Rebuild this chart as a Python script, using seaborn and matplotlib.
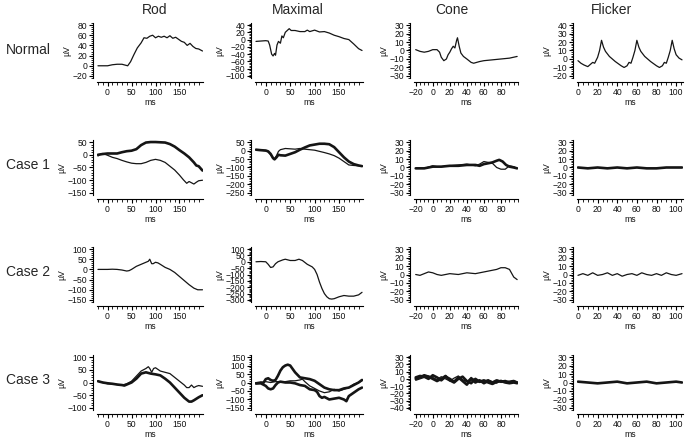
import numpy as np
import matplotlib
matplotlib.use('Agg')
import matplotlib.pyplot as plt
import seaborn as sns
from matplotlib.ticker import MultipleLocator

sns.set_style('ticks')
plt.rcParams['font.family'] = ['Liberation Sans', 'DejaVu Sans']

columns = ['Rod', 'Maximal', 'Cone', 'Flicker']
rows = ['Normal', 'Case 1', 'Case 2', 'Case 3']

# --- Normal ---
normal_rod_t = [-20, -10, 0, 10, 20, 30, 38, 42, 48, 55, 62, 70, 76, 82, 88, 94, 100, 106, 112, 118, 124, 130, 136, 142, 148, 154, 160, 166, 172, 178, 184, 190, 198]
normal_rod_v = [0, 0, 0, 2, 3, 3, 1, 0, 8, 22, 35, 45, 55, 54, 58, 60, 55, 58, 56, 58, 55, 59, 54, 56, 52, 48, 46, 40, 44, 38, 34, 33, 29]

normal_max_t = [-20, -10, 0, 5, 8, 12, 15, 18, 20, 23, 26, 30, 33, 36, 40, 44, 48, 52, 60, 70, 80, 85, 90, 100, 110, 120, 125, 130, 140, 150, 160, 170, 180, 190, 197]
normal_max_v = [-5, -4, -3, -4, -15, -40, -45, -38, -43, -15, -5, -10, 10, 5, 20, 25, 30, 25, 25, 22, 22, 26, 22, 26, 21, 22, 20, 18, 12, 8, 3, 0, -12, -25, -30]

normal_cone_t = [-20, -15, -10, -5, 0, 5, 8, 10, 13, 16, 18, 20, 22, 24, 26, 28, 29, 31, 33, 36, 40, 45, 48, 55, 60, 70, 80, 90, 99]
normal_cone_v = [1, -1, -2, -1, 1, 1, -2, -8, -12, -10, -5, -2, 2, 5, 3, 12, 15, 5, -3, -7, -10, -14, -15, -13, -12, -11, -10, -9, -7]

normal_flk_t = [0, 3, 6, 10, 13, 15, 17, 20, 22, 24, 26, 28, 32, 38, 44, 47, 50, 52, 54, 56, 58, 60, 62, 64, 68, 74, 80, 83, 86, 88, 90, 92, 94, 96, 98, 100, 103, 106]
normal_flk_v = [-2, -5, -7, -9, -6, -4, -5, 2, 10, 22, 14, 9, 3, -3, -8, -10, -8, -4, -5, 2, 10, 22, 14, 9, 3, -3, -8, -10, -8, -4, -5, 2, 10, 22, 12, 5, 1, -1]

# --- Case 1 ---
case1_rod_t_a = [-20, -10, 0, 10, 20, 30, 40, 50, 60, 70, 80, 90, 100, 110, 120, 130, 140, 150, 160, 170, 180, 185, 190, 198]
case1_rod_v_a = [0, 3, 5, 5, 5, 10, 14, 16, 22, 38, 48, 50, 50, 49, 48, 42, 32, 18, 5, -10, -30, -42, -45, -62]
case1_rod_t_b = [-20, -15, -10, 0, 10, 20, 30, 40, 50, 60, 70, 80, 90, 100, 110, 120, 130, 140, 150, 158, 165, 170, 175, 180, 185, 190, 198]
case1_rod_v_b = [-5, 2, 5, -2, -10, -15, -22, -28, -33, -35, -35, -30, -22, -18, -22, -30, -45, -60, -80, -98, -112, -105, -110, -115, -108, -102, -100]

case1_max_t_a = [-20, -10, 0, 5, 10, 15, 18, 22, 26, 30, 40, 50, 60, 70, 80, 90, 100, 110, 120, 130, 140, 150, 160, 170, 180, 190, 197]
case1_max_v_a = [5, 2, 0, -5, -20, -45, -52, -40, -25, -28, -30, -20, -10, 5, 18, 30, 35, 40, 40, 37, 20, -10, -40, -65, -80, -88, -92]
case1_max_t_b = [-20, -10, 0, 5, 10, 15, 18, 22, 26, 30, 40, 50, 60, 70, 80, 90, 100, 110, 120, 130, 140, 150, 160, 170, 180, 190, 197]
case1_max_v_b = [5, 2, -2, -8, -25, -45, -48, -30, -5, 5, 12, 10, 8, 12, 8, 5, 2, -5, -12, -20, -30, -45, -65, -85, -88, -90, -92]

case1_cone_t_a = [-20, -10, 0, 10, 20, 30, 40, 50, 55, 60, 65, 70, 75, 78, 82, 86, 90, 95, 99]
case1_cone_v_a = [-1, -1, 1, 1, 2, 2, 3, 3, 2, 4, 5, 6, 8, 9, 7, 3, 1, 0, -1]
case1_cone_t_b = [-20, -10, 0, 5, 10, 20, 30, 40, 50, 55, 60, 65, 70, 75, 80, 85, 90, 95, 99]
case1_cone_v_b = [-1, -1, 2, 1, 1, 2, 3, 4, 2, 4, 7, 6, 5, 0, -2, -2, 2, 1, -1]

case1_flk_t = [0, 10, 20, 30, 40, 50, 60, 70, 80, 90, 100, 106]
case1_flk_v = [0, -1, 0, -1, 0, -1, 0, -1, -1, 0, 0, 0]

# --- Case 2 ---
case2_rod_t = [-20, -10, 0, 10, 20, 30, 40, 45, 50, 60, 70, 80, 85, 88, 92, 95, 100, 105, 110, 120, 130, 140, 150, 160, 170, 180, 188, 198]
case2_rod_v = [0, 0, 0, 1, 0, -3, -8, -6, 0, 15, 25, 35, 40, 50, 28, 28, 35, 32, 25, 10, 0, -15, -35, -55, -75, -92, -100, -100]

case2_max_t = [-20, -10, 0, 5, 10, 15, 20, 25, 35, 40, 50, 60, 68, 75, 85, 95, 100, 105, 110, 115, 120, 125, 130, 135, 140, 150, 160, 170, 180, 190, 197]
case2_max_v = [0, 2, 0, -20, -45, -40, -15, 0, 15, 20, 10, 10, 20, 10, -20, -40, -60, -100, -160, -210, -250, -275, -290, -293, -290, -275, -265, -270, -270, -260, -240]

case2_cone_t = [-20, -15, -10, -5, 0, 5, 10, 20, 30, 40, 50, 60, 70, 75, 80, 85, 90, 95, 99]
case2_cone_v = [0, -1, 1, 3, 2, 0, -1, 1, 0, 2, 1, 3, 5, 6, 8, 8, 6, -3, -6]

case2_flk_t = [0, 5, 10, 15, 20, 25, 30, 35, 40, 45, 50, 55, 60, 65, 70, 75, 80, 85, 90, 95, 100, 106]
case2_flk_v = [-1, 1, -1, 2, -1, 0, 2, -1, 1, -2, 0, 1, -1, 2, 0, -1, 1, -1, 2, 0, -1, 1]

# --- Case 3 ---
case3_rod_t_a = [-20, -10, 0, 10, 20, 30, 35, 40, 50, 60, 70, 80, 90, 100, 110, 120, 130, 140, 150, 160, 170, 175, 180, 190, 198]
case3_rod_v_a = [5, 0, -3, -5, -8, -10, -12, -8, 0, 15, 35, 40, 35, 32, 28, 15, 0, -20, -40, -60, -75, -75, -70, -58, -50]
case3_rod_t_b = [-20, -10, 0, 10, 20, 30, 40, 50, 60, 70, 80, 85, 88, 92, 96, 100, 110, 120, 130, 140, 150, 160, 165, 170, 175, 180, 185, 190, 198]
case3_rod_v_b = [5, 0, -5, -6, -8, -10, -5, 5, 25, 45, 55, 62, 55, 40, 55, 58, 45, 40, 35, 20, 5, -10, -20, -20, -10, -20, -15, -12, -15]

case3_max_t_a = [-20, -10, -5, 0, 5, 10, 15, 20, 25, 30, 35, 40, 45, 50, 55, 60, 70, 80, 90, 100, 110, 120, 130, 140, 150, 160, 170, 180, 190, 197]
case3_max_v_a = [-5, 0, -3, 20, 25, 15, 10, 15, 40, 70, 90, 100, 105, 100, 80, 60, 30, 25, 20, 10, -10, -30, -40, -45, -45, -35, -30, -15, 0, 15]
case3_max_t_b = [-20, -10, 0, 5, 10, 15, 20, 25, 30, 40, 50, 60, 70, 80, 90, 100, 105, 110, 115, 120, 130, 140, 150, 160, 165, 170, 180, 190, 197]
case3_max_v_b = [-5, -5, -20, -35, -40, -35, -15, 0, 5, 0, 0, -5, -15, -20, -40, -45, -55, -80, -90, -85, -100, -95, -90, -100, -110, -80, -60, -40, -30]
case3_max_t_c = [-20, -10, 0, 10, 20, 30, 40, 50, 60, 70, 75, 80, 90, 100, 110, 120, 130, 140, 150, 160, 170, 180, 190, 197]
case3_max_v_c = [-5, 0, 5, 0, 5, 5, 5, 10, 10, 15, 20, 5, -20, -35, -50, -60, -55, -40, -50, -40, -30, -10, 0, 10]

case3_cone_t = [-20, -15, -10, -5, 0, 5, 10, 15, 20, 25, 30, 35, 40, 45, 50, 55, 60, 65, 70, 75, 80, 85, 90, 95, 99]
case3_cone_v_a = [2, 4, 3, 0, 5, 2, -2, 3, 0, -4, 2, -3, -8, 0, -5, -2, -6, -3, -5, -2, -4, -3, -5, -4, -5]
case3_cone_v_b = [0, 2, 5, 3, 0, -3, 0, 4, -2, -5, 0, 3, -3, -6, 0, -4, -2, -5, -7, -4, -3, -5, -6, -5, -6]
case3_cone_v_c = [-2, 0, 2, 4, 2, -1, 3, 0, -3, 1, 4, -1, -4, 2, -2, -5, -3, -1, -4, -6, -2, -4, -3, -2, -4]

case3_flk_t = [0, 10, 20, 30, 40, 50, 60, 70, 80, 90, 100, 106]
case3_flk_v = [1, 0, -1, 0, 1, -1, 0, 1, -1, 0, 1, 0]

THIN, THICK = 0.9, 1.9
panels = [
    [[(normal_rod_t, normal_rod_v, THIN)],
     [(normal_max_t, normal_max_v, THIN)],
     [(normal_cone_t, normal_cone_v, THIN)],
     [(normal_flk_t, normal_flk_v, THIN)]],
    [[(case1_rod_t_a, case1_rod_v_a, THICK), (case1_rod_t_b, case1_rod_v_b, THIN)],
     [(case1_max_t_a, case1_max_v_a, THICK), (case1_max_t_b, case1_max_v_b, THIN)],
     [(case1_cone_t_a, case1_cone_v_a, THICK), (case1_cone_t_b, case1_cone_v_b, THIN)],
     [(case1_flk_t, case1_flk_v, THICK)]],
    [[(case2_rod_t, case2_rod_v, THIN)],
     [(case2_max_t, case2_max_v, THIN)],
     [(case2_cone_t, case2_cone_v, THIN)],
     [(case2_flk_t, case2_flk_v, THIN)]],
    [[(case3_rod_t_a, case3_rod_v_a, THICK), (case3_rod_t_b, case3_rod_v_b, THIN)],
     [(case3_max_t_a, case3_max_v_a, THICK), (case3_max_t_b, case3_max_v_b, THICK), (case3_max_t_c, case3_max_v_c, THIN)],
     [(case3_cone_t, case3_cone_v_a, THICK), (case3_cone_t, case3_cone_v_b, THICK), (case3_cone_t, case3_cone_v_c, THIN)],
     [(case3_flk_t, case3_flk_v, THICK)]],
]

# y axis (low, high, step) per panel
y_ranges = [
    [(-20, 80, 20), (-100, 40, 20), (-30, 30, 10), (-20, 40, 10)],
    [(-150, 50, 50), (-250, 50, 50), (-30, 30, 10), (-30, 30, 10)],
    [(-150, 100, 50), (-300, 100, 50), (-30, 30, 10), (-30, 30, 10)],
    [(-100, 100, 50), (-150, 150, 50), (-40, 30, 10), (-30, 30, 10)],
]
x_ticks = [[0, 50, 100, 150], [0, 50, 100, 150], [-20, 0, 20, 40, 60, 80], [0, 20, 40, 60, 80, 100]]
x_minor = [10, 10, 5, 5]
x_lims = [(-22, 199), (-22, 199), (-22, 100), (-1, 107)]

# layout in pixels
W, H = 685, 440
col_left = [97, 255, 414, 577]
col_w = [106, 108, 104, 106]
row_top = [23, 140, 247, 355]
row_h = 55

fig = plt.figure(figsize=(6.85, 4.4), dpi=100)

for i in range(4):
    for j in range(4):
        ax = fig.add_axes([col_left[j] / W, 1 - (row_top[i] + row_h) / H, col_w[j] / W, row_h / H])
        for t, v, lw in panels[i][j]:
            sns.lineplot(x=t, y=v, ax=ax, color='#151515', linewidth=lw,
                         legend=False, sort=False, estimator=None)
        lo, hi, step = y_ranges[i][j]
        pad = 0.04 * (hi - lo)
        ax.set_ylim(lo - pad, hi + pad)
        ax.set_yticks(np.arange(lo, hi + step, step))
        ax.yaxis.set_minor_locator(MultipleLocator(step / 5))
        ax.set_xlim(*x_lims[j])
        ax.set_xticks(x_ticks[j])
        ax.xaxis.set_minor_locator(MultipleLocator(x_minor[j]))
        for s in ['top', 'right']:
            ax.spines[s].set_visible(False)
        for s in ['left', 'bottom']:
            ax.spines[s].set_position(('outward', 3))
            ax.spines[s].set_linewidth(0.8)
            ax.spines[s].set_color('black')
        ax.tick_params(which='major', length=3, width=0.8, labelsize=6.2, pad=1,
                       color='black', labelcolor='#111111')
        ax.tick_params(which='minor', length=1.8, width=0.6, color='black')
        ax.set_xlabel('ms', fontsize=6.2, labelpad=1, color='#111111')
        ax.set_ylabel('µV', fontsize=6.2, labelpad=1, color='#111111')

col_centers = [155, 298, 452, 612]
for name, cx in zip(columns, col_centers):
    fig.text(cx / W, 1 - 10 / H, name, ha='center', va='center', fontsize=10)

row_centers = [50, 165, 272, 380]
for name, cy in zip(rows, row_centers):
    fig.text(28 / W, 1 - cy / H, name, ha='center', va='center', fontsize=10)

fig.savefig('out.png', dpi=100)
